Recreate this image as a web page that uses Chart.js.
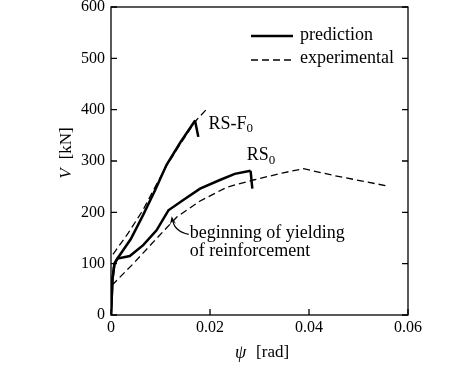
<!DOCTYPE html>
<html>
<head>
<meta charset="utf-8">
<script src="https://cdn.jsdelivr.net/npm/chart.js@4"></script>
<style>
    html, body { margin: 0; padding: 0; background: #ffffff; }
    #wrap { width: 474px; height: 372px; }
</style>
</head>
<body>
<div id="wrap"><canvas id="chart" width="474" height="372"></canvas></div>
<script>
// Tick values
const xTicks = [0, 0.02, 0.04, 0.06];
const yTicks = [0, 100, 200, 300, 400, 500, 600];

// RS-F0 prediction (solid) and experiment (dashed)
const rsfPredX = [0, 0.0003, 0.0007, 0.0013, 0.0040, 0.0065, 0.0090, 0.0112, 0.0140, 0.0170];
const rsfPredY = [0, 70, 100, 110, 148, 195, 245, 292, 336, 379];
const rsfExpX = [0.0004, 0.0035, 0.0065, 0.0095, 0.0112, 0.0140, 0.0170, 0.0197];
const rsfExpY = [118, 160, 205, 260, 290, 333, 377, 405];
const rsfEndX = [0.01697, 0.01764];
const rsfEndY = [379, 347];

// RS0 prediction (solid) and experiment (dashed)
const rs0PredX = [0, 0.0003, 0.0007, 0.0013, 0.0038, 0.0065, 0.0092, 0.0116, 0.0146, 0.0180, 0.0220, 0.0250, 0.0282];
const rs0PredY = [0, 70, 100, 110, 115, 136, 165, 204, 224, 246, 263, 275, 281];
const rs0ExpX = [0.0002, 0.0045, 0.0092, 0.0133, 0.0180, 0.0234, 0.0288, 0.0348, 0.0389, 0.0449, 0.0560];
const rs0ExpY = [58, 100, 149, 191, 222, 249, 263, 277, 285, 272, 251];
const rs0EndX = [0.0282, 0.02855];
const rs0EndY = [281, 246];

const FONT = '"Liberation Serif", "Times New Roman", serif';

function pts(xs, ys) {
    return xs.map((x, i) => ({ x: x, y: ys[i] }));
}

function solid(xs, ys) {
    return {
        data: pts(xs, ys), showLine: true, pointRadius: 0,
        borderColor: '#000000', borderWidth: 2.5, borderCapStyle: 'butt'
    };
}

function dashed(xs, ys) {
    return {
        data: pts(xs, ys), showLine: true, pointRadius: 0,
        borderColor: '#000000', borderWidth: 1.3, borderDash: [7, 4]
    };
}

// frame, inward ticks, legend, labels, arrow
const decorPlugin = {
    id: 'decor',
    afterDraw(chart) {
        const ctx = chart.ctx;
        const a = chart.chartArea;
        const xs = chart.scales.x;
        const ys = chart.scales.y;
        ctx.save();
        ctx.strokeStyle = '#000';
        ctx.fillStyle = '#000';

        ctx.lineWidth = 1.3;
        ctx.strokeRect(a.left, a.top, a.right - a.left, a.bottom - a.top);

        const tl = 6;
        ctx.beginPath();
        yTicks.forEach(v => {
            const py = ys.getPixelForValue(v);
            ctx.moveTo(a.left, py); ctx.lineTo(a.left + tl, py);
            ctx.moveTo(a.right, py); ctx.lineTo(a.right - tl, py);
        });
        xTicks.forEach(v => {
            const px = xs.getPixelForValue(v);
            ctx.moveTo(px, a.bottom); ctx.lineTo(px, a.bottom - tl);
        });
        ctx.stroke();

        // legend
        ctx.lineWidth = 2.5;
        ctx.beginPath();
        ctx.moveTo(251, 36); ctx.lineTo(293, 36);
        ctx.stroke();
        ctx.lineWidth = 1.3;
        ctx.setLineDash([7, 4]);
        ctx.beginPath();
        ctx.moveTo(251, 60); ctx.lineTo(293, 60);
        ctx.stroke();
        ctx.setLineDash([]);
        ctx.font = '18px ' + FONT;
        ctx.textAlign = 'left';
        ctx.textBaseline = 'middle';
        ctx.fillText('prediction', 300, 35);
        ctx.fillText('experimental', 300, 58);

        // curve labels with subscripts
        function subLabel(base, sub, vx, vy) {
            const px = xs.getPixelForValue(vx);
            const py = ys.getPixelForValue(vy);
            ctx.font = '18px ' + FONT;
            ctx.fillText(base, px, py);
            const w = ctx.measureText(base).width;
            ctx.font = '13px ' + FONT;
            ctx.fillText(sub, px + w, py + 5);
        }
        subLabel('RS-F', '0', 0.0197, 372);
        subLabel('RS', '0', 0.0274, 311);

        ctx.font = '18px ' + FONT;
        ctx.fillText('beginning of yielding', xs.getPixelForValue(0.0159), ys.getPixelForValue(159));
        ctx.fillText('of reinforcement', xs.getPixelForValue(0.0159), ys.getPixelForValue(124));

        // arrow to the yield point
        const hx = xs.getPixelForValue(0.01226), hy = ys.getPixelForValue(192.6);
        const cx = xs.getPixelForValue(0.0128), cy = ys.getPixelForValue(163);
        const tx = xs.getPixelForValue(0.0157), ty = ys.getPixelForValue(157);
        ctx.lineWidth = 1.2;
        ctx.beginPath();
        ctx.moveTo(tx, ty);
        ctx.quadraticCurveTo(cx, cy, hx + 1, hy + 4);
        ctx.stroke();
        const ang = Math.atan2(hy + 4 - cy, hx + 1 - cx);
        ctx.beginPath();
        ctx.moveTo(hx, hy);
        ctx.lineTo(hx - 9 * Math.cos(ang - 0.35), hy - 9 * Math.sin(ang - 0.35));
        ctx.lineTo(hx - 5 * Math.cos(ang), hy - 5 * Math.sin(ang));
        ctx.lineTo(hx - 9 * Math.cos(ang + 0.35), hy - 9 * Math.sin(ang + 0.35));
        ctx.closePath();
        ctx.fill();

        // axis titles
        ctx.font = 'italic 18px ' + FONT;
        ctx.textAlign = 'left';
        const xt = 'ψ';
        const xw = ctx.measureText(xt).width;
        ctx.font = '17px ' + FONT;
        const xr = '[rad]';
        const xrw = ctx.measureText(xr).width;
        let sx = 262 - (xw + 10 + xrw) / 2;
        ctx.font = 'italic 18px ' + FONT;
        ctx.fillText(xt, sx, 353);
        ctx.font = '17px ' + FONT;
        ctx.fillText(xr, sx + xw + 10, 353);

        ctx.translate(67, 153);
        ctx.rotate(-Math.PI / 2);
        ctx.font = 'italic 17px ' + FONT;
        const vw = ctx.measureText('V').width;
        ctx.font = '17px ' + FONT;
        const kw = ctx.measureText('[kN]').width;
        sx = -(vw + 9 + kw) / 2;
        ctx.font = 'italic 17px ' + FONT;
        ctx.fillText('V', sx, 0);
        ctx.font = '17px ' + FONT;
        ctx.fillText('[kN]', sx + vw + 9, 0);
        ctx.restore();
    }
};

new Chart(document.getElementById('chart'), {
    type: 'scatter',
    data: {
        datasets: [
            solid(rsfPredX, rsfPredY),
            dashed(rsfExpX, rsfExpY),
            solid(rsfEndX, rsfEndY),
            solid(rs0PredX, rs0PredY),
            dashed(rs0ExpX, rs0ExpY),
            solid(rs0EndX, rs0EndY)
        ]
    },
    options: {
        responsive: false,
        animation: false,
        layout: { padding: { top: 7, right: 66, left: 0, bottom: 0 } },
        plugins: {
            legend: { display: false },
            tooltip: { enabled: false }
        },
        scales: {
            x: {
                min: 0, max: 0.06,
                afterBuildTicks: s => { s.ticks = xTicks.map(v => ({ value: v })); },
                afterFit: s => { s.height = 57; },
                grid: { drawOnChartArea: false, drawTicks: false },
                border: { display: false },
                ticks: {
                    color: '#000', padding: 3,
                    font: { family: FONT, size: 16 },
                    callback: v => v === 0 ? '0' : v.toFixed(2)
                }
            },
            y: {
                min: 0, max: 600,
                afterBuildTicks: s => { s.ticks = yTicks.map(v => ({ value: v })); },
                afterFit: s => { s.width = 111; s.paddingTop = 0; s.paddingBottom = 0; },
                grid: { drawOnChartArea: false, drawTicks: false },
                border: { display: false },
                ticks: {
                    color: '#000', padding: 6,
                    font: { family: FONT, size: 16 }
                }
            }
        }
    },
    plugins: [decorPlugin]
});
</script>
</body>
</html>
